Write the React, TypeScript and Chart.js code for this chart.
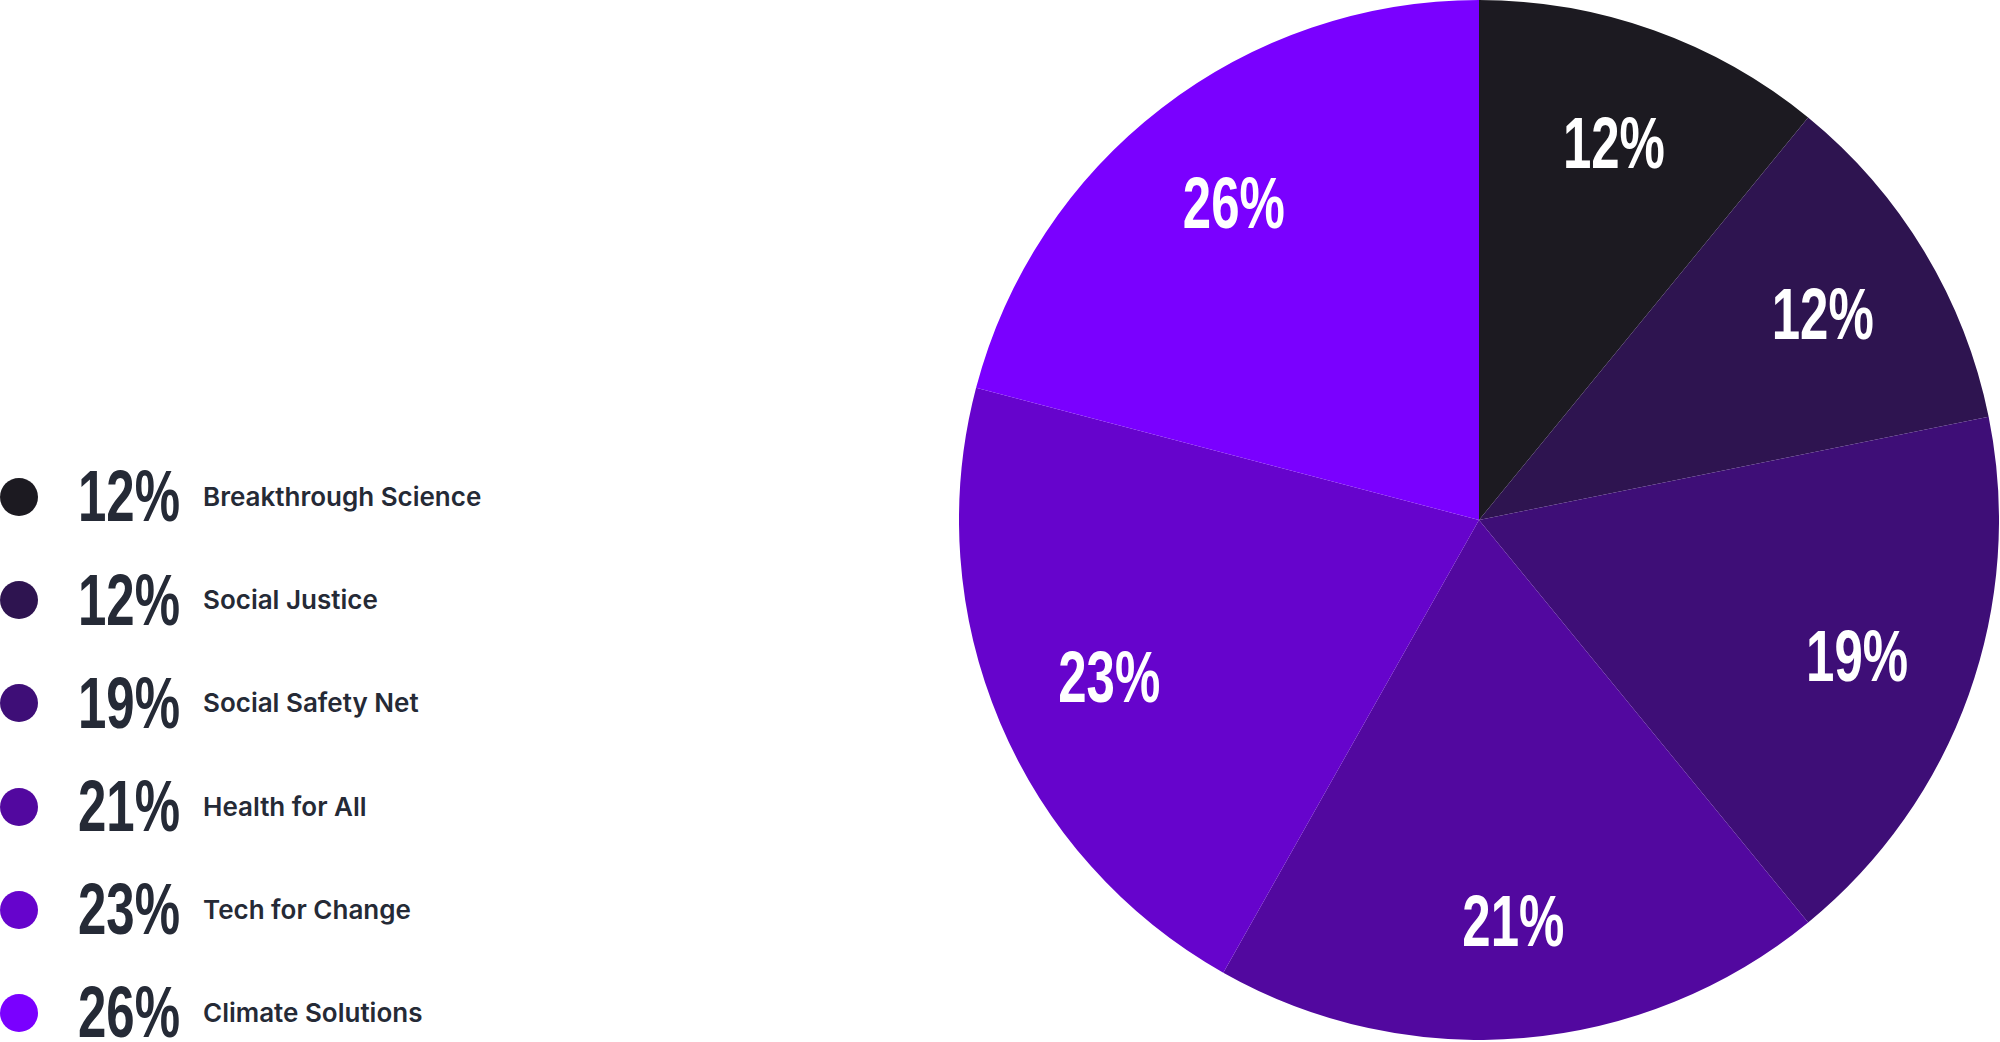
import React, { useEffect, useRef, useState } from "react";
import { Chart, registerables } from "chart.js";

Chart.register(...registerables);

const categories = [
  "Breakthrough Science",
  "Social Justice",
  "Social Safety Net",
  "Health for All",
  "Tech for Change",
  "Climate Solutions",
];
// slice sizes as measured from the pie's angles
const sliceValues = [12, 12, 19, 21, 23, 23];
// percentages printed on the chart and in the legend
const percentLabels = ["12%", "12%", "19%", "21%", "23%", "26%"];
const colors = ["#1c1a21", "#2e1450", "#3e0e77", "#52089f", "#6604cc", "#7a00ff"];

const PCT_FONT = '"Liberation Sans Narrow", "Liberation Sans", Arial, sans-serif';
const PCT_SIZE = 73;
const PCT_TARGET_W = 102;

function condenseFactor(): number {
  const c = document.createElement("canvas").getContext("2d");
  if (!c) return 0.8;
  c.font = `bold ${PCT_SIZE}px ${PCT_FONT}`;
  const w = c.measureText("12%").width;
  return w > 0 ? PCT_TARGET_W / w : 0.8;
}

const sliceLabelPlugin = {
  id: "sliceLabels",
  afterDatasetsDraw(chart: any) {
    const ctx = chart.ctx;
    const meta = chart.getDatasetMeta(0);
    const f = condenseFactor();
    ctx.save();
    ctx.fillStyle = "#ffffff";
    ctx.font = `bold ${PCT_SIZE}px ${PCT_FONT}`;
    ctx.textAlign = "center";
    ctx.textBaseline = "alphabetic";
    meta.data.forEach((arc: any, i: number) => {
      const p = arc.getProps(["x", "y", "startAngle", "endAngle", "outerRadius"], true);
      const mid = (p.startAngle + p.endAngle) / 2;
      const r = p.outerRadius * 0.772;
      const x = p.x + Math.cos(mid) * r;
      const y = p.y + Math.sin(mid) * r;
      ctx.save();
      ctx.translate(x, y + PCT_SIZE * 0.716 / 2);
      ctx.scale(f, 1);
      ctx.fillText(percentLabels[i], 0, 0);
      ctx.restore();
    });
    ctx.restore();
  },
};

export default function App() {
  const canvasRef = useRef<HTMLCanvasElement | null>(null);
  const [factor, setFactor] = useState(0.8);

  useEffect(() => {
    document.body.style.margin = "0";
    setFactor(condenseFactor());
    const canvas = canvasRef.current;
    if (!canvas) return;
    const chart = new Chart(canvas, {
      type: "pie",
      data: {
        labels: categories,
        datasets: [
          {
            data: sliceValues,
            backgroundColor: colors,
            borderWidth: 0,
          },
        ],
      },
      options: {
        animation: false,
        responsive: true,
        maintainAspectRatio: false,
        layout: { padding: 0 },
        plugins: {
          legend: { display: false },
          tooltip: { enabled: false },
        },
      },
      plugins: [sliceLabelPlugin],
    });
    return () => chart.destroy();
  }, []);

  const rowH = 103.2;

  return (
    <div style={{ position: "relative", width: 2000, height: 1040, overflow: "hidden", background: "#ffffff" }}>
      <div style={{ position: "absolute", left: 0, top: 445.4, width: 600 }}>
        {categories.map((c, i) => (
          <div key={c} style={{ position: "relative", height: rowH }}>
            <div
              style={{
                position: "absolute",
                left: 0,
                top: rowH / 2 - 19,
                width: 38,
                height: 38,
                borderRadius: "50%",
                background: colors[i],
              }}
            />
            <span
              style={{
                position: "absolute",
                left: 78,
                top: rowH / 2 - PCT_SIZE / 2 - 1,
                fontFamily: PCT_FONT,
                fontWeight: 700,
                fontSize: PCT_SIZE,
                lineHeight: 1,
                color: "#252a36",
                transform: `scaleX(${factor})`,
                transformOrigin: "left center",
                whiteSpace: "nowrap",
              }}
            >
              {percentLabels[i]}
            </span>
            <span
              style={{
                position: "absolute",
                left: 203,
                top: rowH / 2 - 15,
                fontFamily: "Inter, 'Noto Sans', sans-serif",
                fontWeight: 600,
                fontSize: 26,
                lineHeight: "30px",
                color: "#252a36",
                whiteSpace: "nowrap",
              }}
            >
              {c}
            </span>
          </div>
        ))}
      </div>
      <div style={{ position: "absolute", left: 959, top: 0, width: 1040, height: 1040 }}>
        <canvas ref={canvasRef} />
      </div>
    </div>
  );
}
